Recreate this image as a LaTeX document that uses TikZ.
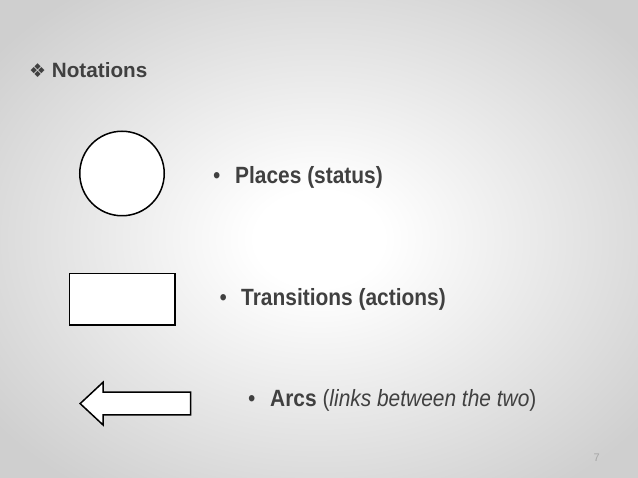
\documentclass[tikz,border=0pt]{standalone}
\usepackage{fontspec}
\setmainfont{Liberation Sans}
\newfontfamily\itemfont[FakeStretch=0.89]{Liberation Sans}
\newfontfamily\dingfont{DejaVu Sans}
\usetikzlibrary{shapes.arrows}
\definecolor{slidetext}{HTML}{404040}
\definecolor{bgedge}{HTML}{CFCFCF}
\pgfdeclareradialshading{slidebg}{\pgfpoint{0bp}{0bp}}{color(0bp)=(white); color(5bp)=(white); color(32bp)=(bgedge); color(50bp)=(bgedge)}

\begin{document}
\begin{tikzpicture}[x=1pt,y=-1pt,
    notation/.style={draw=black,fill=white,line width=1.5pt,inner sep=0pt},
    item/.style={anchor=base west,inner sep=0pt,text=slidetext,font=\itemfont\fontsize{23.5}{28}\selectfont}]
  \shade[shading=slidebg] (0,0) rectangle (638,478);
  \useasboundingbox (0,0) rectangle (638,478);
  \node[anchor=base west,inner sep=0pt,text=slidetext,font=\fontsize{20.7}{25}\selectfont\bfseries] (title) at (29,77.3)
    {\makebox[22.7pt][l]{\dingfont\mdseries\fontsize{19}{20}\selectfont ❖}Notations};
  \node[notation,circle,minimum size=84.5pt] (place) at (122,173.5) {};
  \node[notation,rectangle,minimum width=105.2pt,minimum height=51.5pt] (transition) at (122.3,299.2) {};
  \node[notation,single arrow,shape border rotate=180,inner ysep=10.6pt,minimum height=110.5pt,
    single arrow head extend=10pt,single arrow tip angle=86] (arc) at (141.5,403.6) {};
  \node[item] (places) at (213,184) {\makebox[22pt][l]{•}\bfseries Places (status)};
  \node[item] (transitions) at (219.5,305.7) {\makebox[21.5pt][l]{•}\bfseries Transitions (actions)};
  \node[item] (arcs) at (248,407) {\makebox[22pt][l]{•}\textbf{Arcs} (\textit{links between the two})};
  \node[anchor=base west,inner sep=0pt,text=gray!70,font=\fontsize{11}{13}\selectfont] (pagenum) at (593.5,461.5) {7};
\end{tikzpicture}
\end{document}
